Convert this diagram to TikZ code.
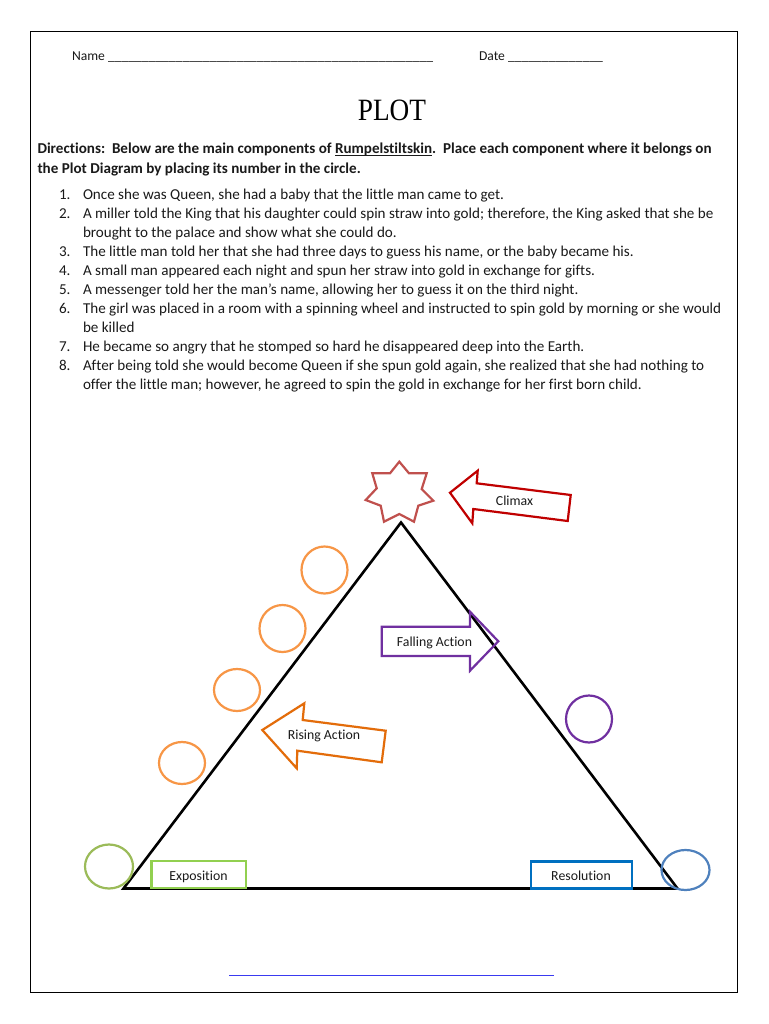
\documentclass[tikz,border=0pt]{standalone}
\usepackage{fontspec}
\setmainfont{Carlito}[Ligatures=NoCommon]
\newfontfamily\titlefont{Liberation Serif}
\definecolor{txt}{HTML}{1A1A1A}
\definecolor{orc}{HTML}{F79646}
\definecolor{ora}{HTML}{E36C0A}
\definecolor{red1}{HTML}{C00000}
\definecolor{star1}{HTML}{C0504D}
\definecolor{pur}{HTML}{7030A0}
\definecolor{grc}{HTML}{9BBB59}
\definecolor{grb}{HTML}{92D050}
\definecolor{blc}{HTML}{4F81BD}
\definecolor{blb}{HTML}{0070C0}
\definecolor{linkblue}{HTML}{3A3AF0}
\newcommand{\ulin}[1]{\leavevmode\setbox0\hbox{#1}\rlap{\rule[-1.8pt]{\wd0}{0.95pt}}\box0}
\newcommand{\blanks}[1]{\foreach \k in {1,...,#1}{\char"5F}}
\tikzset{
  x=1pt,y=-1pt,
  line/.style={anchor=base west,inner sep=0pt,outer sep=0pt,font=\fontsize{15.1}{17}\selectfont,text=txt},
  head/.style={line,font=\fontsize{15.1}{17}\selectfont\bfseries},
  top/.style={line,font=\fontsize{13.6}{15}\selectfont},
  lab/.style={inner sep=0pt,font=\fontsize{13.8}{16}\selectfont,text=txt},
  ring/.style={draw=#1,line width=2.2pt,fill=none},
  tag/.style={draw=#1,line width=2.2pt,fill=white},
  arrowshape/.style={draw=#1,line width=2.2pt,line join=miter,fill=none}
}
\begin{document}
\begin{tikzpicture}
\useasboundingbox (0,0) rectangle (768,1024);
\fill[white] (0,0) rectangle (768,1024);
\draw[black,line width=1pt] (30.5,31.5) rectangle (737.5,992.5);

\node[top] (name) at (72,60.5) {Name};
\node[top] (nameblank) at (108,60.5) {\blanks{48}};
\node[top] (date) at (479,60.5) {Date};
\node[top] (dateblank) at (508,60.5) {\blanks{14}};

\node[inner sep=0pt,text=black,font=\titlefont\fontsize{31}{34}\selectfont,xscale=.88] (title) at (392,110) {PLOT};

\node[head] (dir1) at (37.5,154) {Directions:\ \ Below are the main components of \ulin{Rumpelstiltskin}.\ \ Place each component where it belongs on};
\node[head] (dir2) at (37.5,173.5) {the Plot Diagram by placing its number in the circle.};

\foreach \n/\y/\t in {
 1/199.5/{Once she was Queen, she had a baby that the little man came to get.},
 2/218.5/{A miller told the King that his daughter could spin straw into gold; therefore, the King asked that she be},
 3/256.5/{The little man told her that she had three days to guess his name, or the baby became his.},
 4/275.5/{A small man appeared each night and spun her straw into gold in exchange for gifts.},
 5/294.5/{A messenger told her the man’s name, allowing her to guess it on the third night.},
 6/313.5/{The girl was placed in a room with a spinning wheel and instructed to spin gold by morning or she would},
 7/351.5/{He became so angry that he stomped so hard he disappeared deep into the Earth.},
 8/370.5/{After being told she would become Queen if she spun gold again, she realized that she had nothing to}}
{
 \node[line] (num\n) at (59,\y) {\n.};
 \node[line] (item\n) at (83,\y) {\t};
}
\node[line] (item2b) at (83,237.5) {brought to the palace and show what she could do.};
\node[line] (item6b) at (83,332.5) {be killed};
\node[line] (item8b) at (83,389) {offer the little man; however, he agreed to spin the gold in exchange for her first born child.};

% triangle
\draw[black,line width=2.6pt,line join=miter] (123.5,888.5) -- (401,522.5) -- (677.5,888.5) -- cycle;

% star
\draw[star1,line width=2.2pt,line join=miter]
 (399.3,461.7) -- (409,473.3) -- (426.7,473.3) -- (421.7,489) -- (433.3,500.7) -- (418.3,505.7)
 -- (414,521.7) -- (399.3,514) -- (384,521.7) -- (380.7,505.7) -- (365.7,500) -- (376.7,488.3)
 -- (372.3,473.3) -- (390,473.3) -- cycle;

% arrows
\draw[arrowshape=red1] (450,492.7) -- (477.7,470.7) -- (476.7,483.3) -- (570.7,495) -- (567.7,521) -- (473.3,509) -- (472.3,523.3) -- cycle;
\node[lab] (climax) at (514.5,501) {Climax};
\draw[arrowshape=pur] (381.7,626.7) -- (470,626.7) -- (470,611.7) -- (498.3,641.3) -- (470,670.7) -- (470,656) -- (381.7,656) -- cycle;
\node[lab] (falling) at (434.5,642.5) {Falling Action};
\draw[arrowshape=ora] (262.3,730) -- (304.3,703.3) -- (302.7,720) -- (385.7,730.7) -- (381.7,762.3) -- (297.3,750.7) -- (296.7,768.3) -- cycle;
\node[lab] (rising) at (324,735.5) {Rising Action};

% circles
\draw[ring=orc] (324.5,570) ellipse [x radius=23,y radius=23.5];
\draw[ring=orc] (282.5,628.5) ellipse [x radius=23,y radius=23.5];
\draw[ring=orc] (237,690) ellipse [x radius=23,y radius=21];
\draw[ring=orc] (182,763) ellipse [x radius=23,y radius=21];
\draw[ring=pur] (589,719) ellipse [x radius=23,y radius=23.5];
\draw[ring=grc] (109,866.5) ellipse [x radius=24,y radius=22];
\draw[ring=blc] (685.5,870) ellipse [x radius=24,y radius=20];

% boxes
\draw[tag=grb] (151.5,861) rectangle (246,888);
\node[lab] (expo) at (198.5,876.5) {Exposition};
\draw[tag=blb] (531,861.5) rectangle (632,888.5);
\node[lab] (reso) at (581,875.5) {Resolution};

% link line
\fill[linkblue] (229,974.6) rectangle (554,976);
\end{tikzpicture}
\end{document}
